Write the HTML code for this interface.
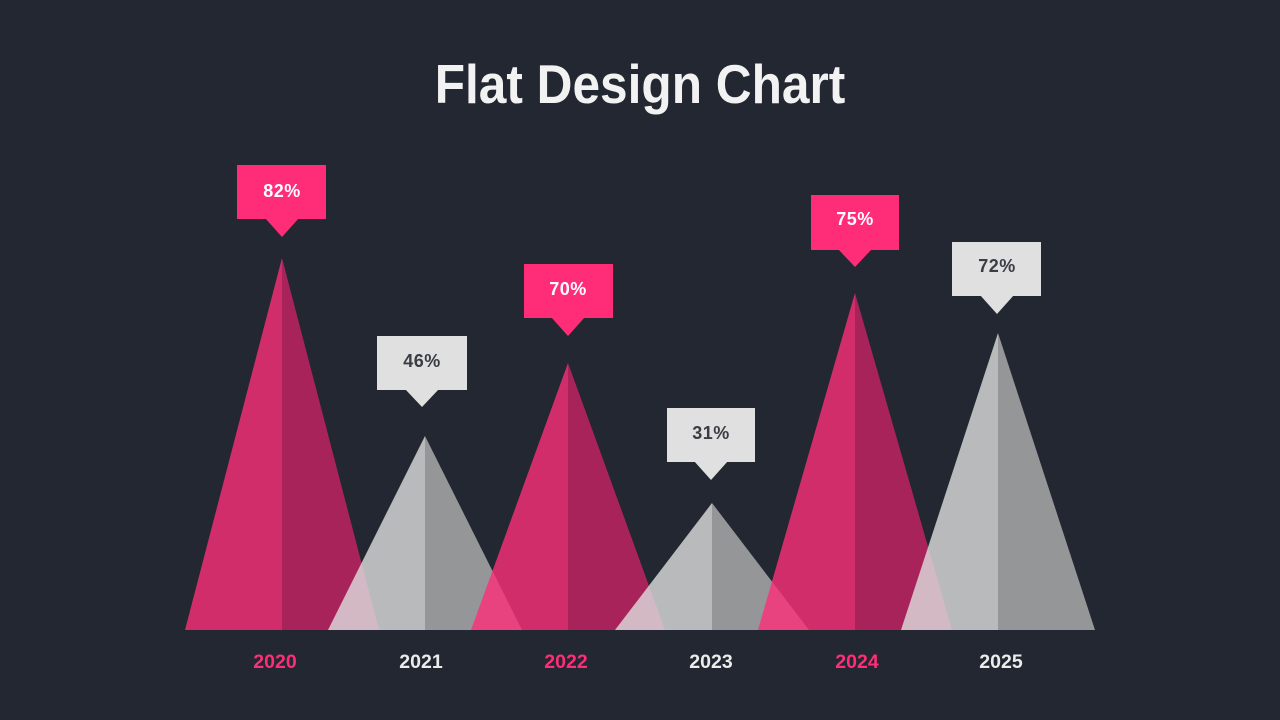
<!DOCTYPE html>
<html>
<head>
<meta charset="utf-8">
<style>
html,body{margin:0;padding:0;background:#222731;}
body{width:1280px;height:720px;overflow:hidden;}
svg{display:block;}
</style>
</head>
<body>
<svg width="1280" height="720" viewBox="0 0 1280 720" xmlns="http://www.w3.org/2000/svg">
  <rect width="1280" height="720" fill="#222731"/>
  <text x="640" y="103" text-anchor="middle" font-family="Liberation Sans, sans-serif" font-weight="bold" font-size="49.6" fill="#f2f2f2" transform="translate(0,-10.3) scale(1,1.1)">Flat Design Chart</text>

  <g fill-opacity="0.81">
    <!-- 2020 -->
    <polygon points="185,630 282,258 282,630" fill="#fb2f79"/>
    <polygon points="282,258 379,630 282,630" fill="#c72364"/>
    <!-- 2021 -->
    <polygon points="328,630 425,436 425,630" fill="#dcdcdd"/>
    <polygon points="425,436 522,630 425,630" fill="#b0b0b0"/>
    <!-- 2022 -->
    <polygon points="471,630 568,363 568,630" fill="#fb2f79"/>
    <polygon points="568,363 665,630 568,630" fill="#c72364"/>
    <!-- 2023 -->
    <polygon points="615,630 712,503 712,630" fill="#dcdcdd"/>
    <polygon points="712,503 809,630 712,630" fill="#b0b0b0"/>
    <!-- 2024 -->
    <polygon points="758,630 855,293 855,630" fill="#fb2f79"/>
    <polygon points="855,293 952,630 855,630" fill="#c72364"/>
    <!-- 2025 -->
    <polygon points="901,630 998,333 998,630" fill="#dcdcdd"/>
    <polygon points="998,333 1095,630 998,630" fill="#b0b0b0"/>
  </g>

  <!-- bubbles -->
  <g font-family="Liberation Sans, sans-serif" font-weight="bold" font-size="18" text-anchor="middle" letter-spacing="0.5">
    <rect x="237" y="165" width="89" height="54" fill="#ff2d78"/>
    <polygon points="265,218 299,218 282,237" fill="#ff2d78"/>
    <text x="282" y="197" fill="#ffffff">82%</text>

    <rect x="377" y="336" width="90" height="54" fill="#e0e0e0"/>
    <polygon points="405,389 439,389 422,407" fill="#e0e0e0"/>
    <text x="422" y="367" fill="#3a3d44">46%</text>

    <rect x="524" y="264" width="89" height="54" fill="#ff2d78"/>
    <polygon points="551,317 585,317 568,336" fill="#ff2d78"/>
    <text x="568" y="295" fill="#ffffff">70%</text>

    <rect x="667" y="408" width="88" height="54" fill="#e0e0e0"/>
    <polygon points="694,461 728,461 711,480" fill="#e0e0e0"/>
    <text x="711" y="439" fill="#3a3d44">31%</text>

    <rect x="811" y="195" width="88" height="55" fill="#ff2d78"/>
    <polygon points="838,249 872,249 855,267" fill="#ff2d78"/>
    <text x="855" y="225" fill="#ffffff">75%</text>

    <rect x="952" y="242" width="89" height="54" fill="#e0e0e0"/>
    <polygon points="980,295 1014,295 997,314" fill="#e0e0e0"/>
    <text x="997" y="272" fill="#3a3d44">72%</text>
  </g>

  <!-- year labels -->
  <g font-family="Liberation Sans, sans-serif" font-weight="bold" font-size="19.5" text-anchor="middle">
    <text x="275" y="668" fill="#ff2d78">2020</text>
    <text x="421" y="668" fill="#ececec">2021</text>
    <text x="566" y="668" fill="#ff2d78">2022</text>
    <text x="711" y="668" fill="#ececec">2023</text>
    <text x="857" y="668" fill="#ff2d78">2024</text>
    <text x="1001" y="668" fill="#ececec">2025</text>
  </g>
</svg>
</body>
</html>
